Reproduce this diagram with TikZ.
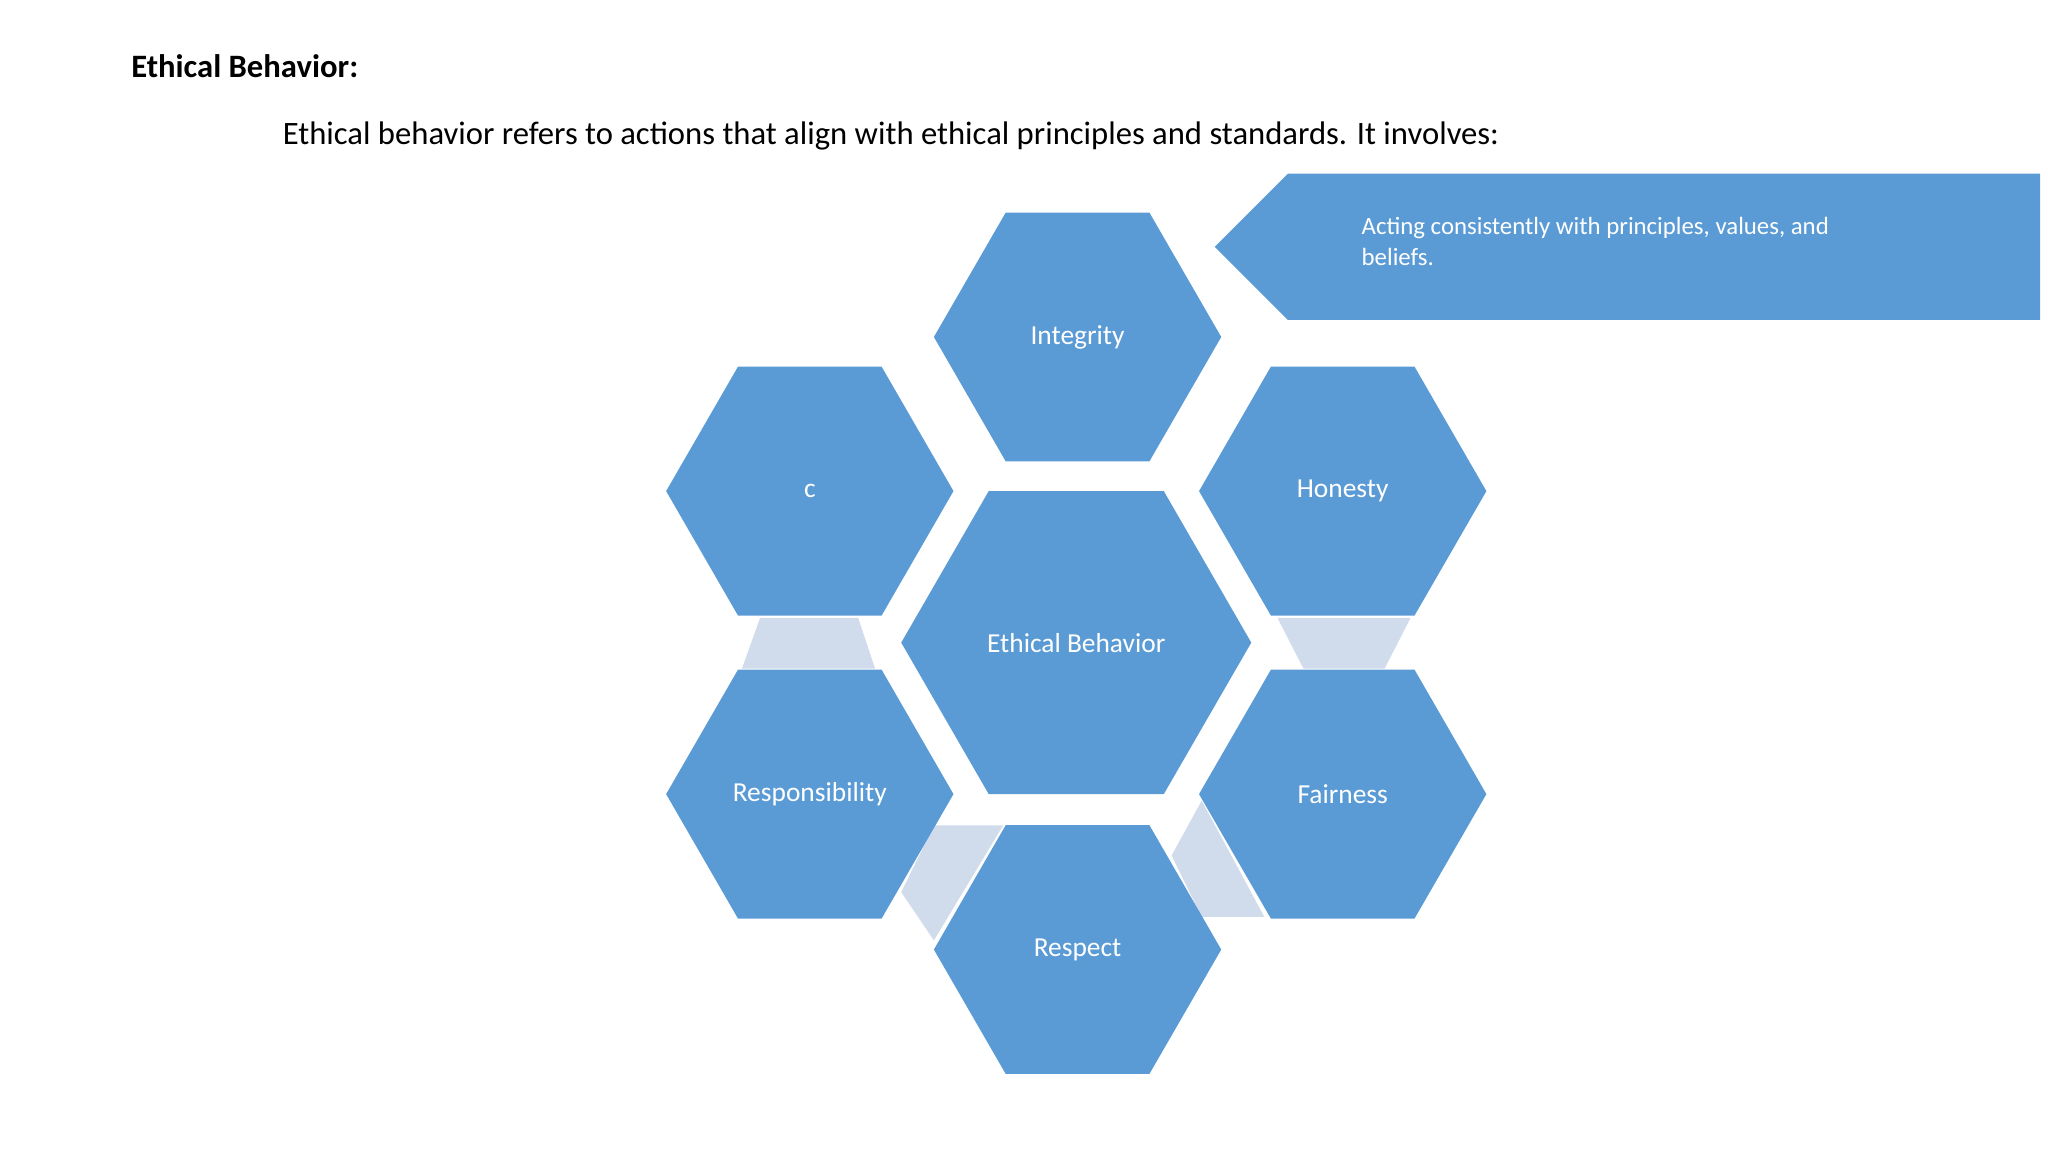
\documentclass[tikz,border=0pt]{standalone}
\usepackage{fontspec}
\setmainfont{Carlito}
\definecolor{hexblue}{HTML}{5B9BD5}
\definecolor{lightlink}{HTML}{D0DCEC}
\newcommand{\myhex}[5]{%
  \fill[hexblue] (#2+#4,#3) -- (#2+#4/2,#3+#4*0.866) -- (#2-#4/2,#3+#4*0.866) -- (#2-#4,#3) -- (#2-#4/2,#3-#4*0.866) -- (#2+#4/2,#3-#4*0.866) -- cycle;
  \node[hexlabel] (#1) at (#2,#3) {#5};}
\begin{document}
\begin{tikzpicture}[x=1pt,y=-1pt,
  hexlabel/.style={text=white,font=\fontsize{21}{25}\selectfont},
  link/.style={fill=lightlink}]
\useasboundingbox (0,0) rectangle (1568,882);
\node[anchor=base west,font=\bfseries\fontsize{25}{30}\selectfont] (title) at (97,59) {Ethical Behavior:};
\node[anchor=base west,font=\fontsize{25}{30}\selectfont] (sub) at (213,111) {Ethical behavior refers to actions that align with ethical principles and standards. It involves:};
% links
\fill[link] (582,473) -- (657,473) -- (670,512) -- (568,512) -- cycle;
\fill[link] (978,473) -- (1080,473) -- (1060,512) -- (998,512) -- cycle;
\fill[link] (715,632) -- (768,632) -- (715,720) -- (690,683) -- cycle;
\fill[link] (920,613) -- (968,702) -- (920,702) -- (897,655) -- cycle;
% hexagons
\myhex{integ}{825}{258}{110}{Integrity}
\myhex{c}{620}{376}{110}{c}
\myhex{hon}{1028}{376}{110}{Honesty}
\myhex{eth}{824}{492}{134}{Ethical Behavior}
\myhex{resp}{620}{608}{110}{Responsibility}
\myhex{fair}{1028}{608}{110}{Fairness}
\myhex{respect}{825}{727}{110}{Respect}
% callout
\fill[hexblue] (930,189) -- (986,133) -- (1562,133) -- (1562,245) -- (986,245) -- cycle;
\node[anchor=north west,text=white,align=left,font=\fontsize{19}{23.5}\selectfont] (call) at (1039,163) {Acting consistently with principles, values, and\\beliefs.};
\end{tikzpicture}
\end{document}
